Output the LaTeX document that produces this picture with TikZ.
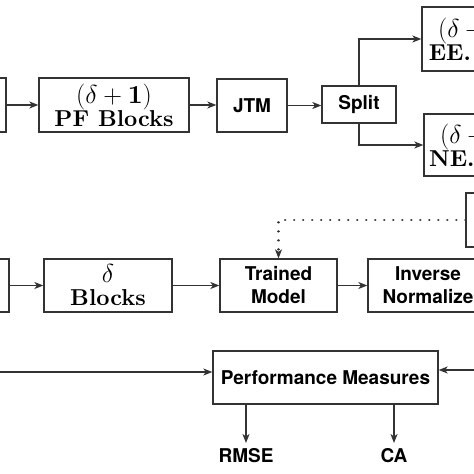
\RequirePackage{fix-cm}
\documentclass[tikz,border=0pt]{standalone}
\usepackage{fontspec}
\setmainfont{lmroman10}[Extension=.otf, UprightFont=*-regular, BoldFont=*-bold, ItalicFont=*-italic, BoldItalicFont=*-bolditalic]
\newfontfamily\hv{TeX Gyre Heros}
\usetikzlibrary{arrows.meta}
\definecolor{lc}{HTML}{333333}
\newcommand{\mymath}[1]{{\fontsize{26}{23}\selectfont$#1$}}
\begin{document}
\begin{tikzpicture}[x=1pt,y=-1pt,
  box/.style={draw=lc, line width=1.3pt, inner sep=0pt, align=center},
  sbox/.style={box, font=\hv\bfseries\fontsize{19}{23}\selectfont},
  mbox/.style={box, font=\fontsize{23}{23}\selectfont},
  lbl/.style={font=\hv\bfseries\fontsize{19}{23}\selectfont, inner sep=0pt, inner ysep=5pt, anchor=north},
  arr/.style={draw=lc, line width=1.3pt, -{Stealth[length=9pt,width=7pt,inset=2.5pt]}},
  dotarr/.style={draw=lc, line width=2.6pt, line cap=round, dash pattern=on 0.01pt off 9pt,
    -{Stealth[length=9pt,width=7pt,inset=2.5pt,line width=1pt]}},
]
\useasboundingbox (0,0) rectangle (474,474);
\clip (0,0) rectangle (474,474);

% row 1
\node[mbox, minimum width=92pt, minimum height=54pt] (L1) at (-40,105) {};
\node[mbox, minimum width=150pt, minimum height=54pt] (PF) at (114,105) {\mymath{\mathbf{(\delta+1)}}\\\textbf{PF Blocks}};
\node[sbox, minimum width=70pt, minimum height=53pt] (JTM) at (252,105.5) {JTM};
\node[sbox, minimum width=74pt, minimum height=37pt] (Split) at (359,104.5) {Split};
\node[mbox, minimum width=140pt, minimum height=64pt] (EE) at (492,39) {\mymath{\mathbf{(\delta+1)}}\hspace*{32pt}\\\textbf{EE. Blocks}};
\node[mbox, minimum width=140pt, minimum height=62pt] (NE) at (494,145) {\mymath{\mathbf{(\delta+1)}}\hspace*{32pt}\\\textbf{NE. Blocks}};

% row 2
\node[box, minimum width=100pt, minimum height=54pt] (Dbox) at (516,220) {};
\node[mbox, minimum width=98pt, minimum height=53pt] (L2) at (-40,285.5) {};
\node[mbox, minimum width=128pt, minimum height=53pt] (Delta) at (108,285.5) {\mymath{\delta}\\\textbf{Blocks}};
\node[sbox, minimum width=117pt, minimum height=53pt] (TM) at (278.5,285.5) {Trained\\Model};
\node[sbox, minimum width=120pt, minimum height=53pt] (INV) at (428,285.5) {Inverse\\Normalize};

% row 3
\node[sbox, minimum width=225pt, minimum height=53pt] (PM) at (325.5,377.5) {Performance Measures};
\node[lbl] (RMSE) at (246,443) {RMSE};
\node[lbl] (CA) at (394,443) {CA};
\coordinate (inL) at (-20,372);
\coordinate (inR) at (490,370);

% connectors
\draw[arr] (L1) -- (PF);
\draw[arr] (PF.east) -- (PF.east -| JTM.west);
\draw[arr] (JTM.east) -- (JTM.east -| Split.west);
\draw[arr] (Split.north) |- (EE.west);
\draw[arr] (Split.south) |- (NE.west);
\draw[dotarr] (Dbox.west) -| (TM.north);
\draw[arr] (L2) -- (Delta);
\draw[arr] (Delta) -- (TM);
\draw[arr] (TM) -- (INV);
\draw[arr] (inL) -- (PM.west |- inL);
\draw[arr] (inR) -- (PM.east |- inR);
\draw[arr] (PM.south -| RMSE.north) -- (RMSE.north);
\draw[arr] (PM.south -| CA.north) -- (CA.north);
\end{tikzpicture}
\end{document}
